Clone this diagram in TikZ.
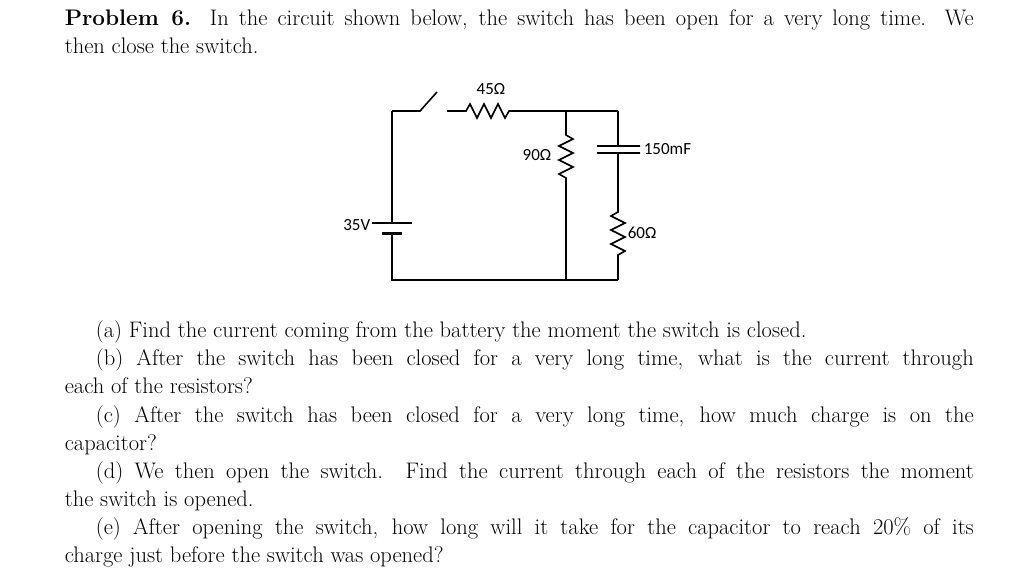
\documentclass[tikz,border=0pt]{standalone}
\usepackage{fontspec}
\newfontfamily\lab{Carlito}
\begin{document}
\begin{tikzpicture}[x=1pt,y=-1pt,line width=1.6pt,
  txt/.style={anchor=base west,inner sep=0pt,font=\fontsize{22.5}{28}\selectfont},
  cl/.style={inner sep=0pt,font=\lab\fontsize{17}{20}\selectfont}]
\useasboundingbox (0,0) rectangle (1024,587);
\newcommand\fl[1]{\hbox to 909pt{#1}}
\newcommand\fla[1]{\hbox to 878pt{#1}}
\node[txt] (l1) at (64,25) {\fl{\textbf{Problem 6.} In the circuit shown below, the switch has been open for a very long time. We}};
\node[txt] (l2) at (64,53) {then close the switch.};
\node[txt] (a1) at (95,337) {(a) Find the current coming from the battery the moment the switch is closed.};
\node[txt] (b1) at (95,365) {\fla{(b) After the switch has been closed for a very long time, what is the current through}};
\node[txt] (b2) at (64,393) {each of the resistors?};
\node[txt] (c1) at (95,422) {\fla{(c) After the switch has been closed for a very long time, how much charge is on the}};
\node[txt] (c2) at (64,450) {capacitor?};
\node[txt] (d1) at (95,478) {\fla{(d) We then open the switch. Find the current through each of the resistors the moment}};
\node[txt] (d2) at (64,506) {the switch is opened.};
\node[txt] (e1) at (95,534) {\fla{(e) After opening the switch, how long will it take for the capacitor to reach 20\% of its}};
\node[txt] (e2) at (64,562) {charge just before the switch was opened?};
% circuit
\coordinate (tl) at (392,111);
\coordinate (sw1) at (420,111);
\coordinate (sw2) at (437,92);
\coordinate (sw3) at (447,111);
\coordinate (mt) at (566,111);
\coordinate (rt) at (618,111);
\coordinate (bl) at (392,280);
\coordinate (mb) at (566,280);
\coordinate (rb) at (618,280);
\draw (tl) -- (sw1) -- (sw2);
\draw (sw3) -- (466,111) -- (470,104) -- (477,118) -- (484,104) -- (491,118) -- (498,104) -- (505,118) -- (509,111) -- (rt);
\draw (mt) -- (566,135) -- (573,139) -- (559,146) -- (573,153) -- (559,160) -- (573,167) -- (559,174) -- (566,178) -- (mb);
\draw (rt) -- (618,146) (597,146) -- (640,146) (597,153) -- (640,153) (618,153) -- (618,212) -- (611,216) -- (625,223) -- (611,230) -- (625,237) -- (611,244) -- (625,251) -- (618,255) -- (rb);
\draw (tl) -- (392,223) (372,223) -- (412,223);
\draw[line width=3pt] (382,233) -- (402,233);
\draw (392,233) -- (bl) -- (mb) -- (rb);
\node[cl] (r45) at (491,89) {45Ω};
\node[cl] (r90) at (537,155) {90Ω};
\node[cl,anchor=west] (c150) at (643,149) {150mF};
\node[cl,anchor=west] (r60) at (627,233) {60Ω};
\node[cl,anchor=east] (v35) at (371,225) {35V};
\end{tikzpicture}
\end{document}
